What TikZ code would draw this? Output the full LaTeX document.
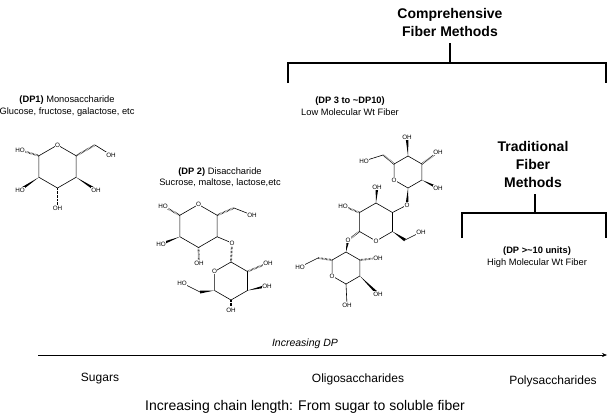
\documentclass[tikz,border=0pt]{standalone}
\usepackage{fontspec}
\setmainfont{Liberation Sans}
\usetikzlibrary{calc,arrows.meta}
\begin{document}
\begin{tikzpicture}[x=1pt,y=-1pt,
  bond/.style={line width=0.6pt},
  hashb/.style={line width=1.8pt,dash pattern=on 0.45pt off 0.9pt},
  atom/.style={fill=white,inner sep=0.3pt,font=\fontsize{6.3}{7}\selectfont},
  lbl/.style={align=center,font=\fontsize{9.3}{11.5}\selectfont},
  head/.style={align=center,font=\fontsize{14}{18}\selectfont\bfseries},
  cat/.style={font=\fontsize{12}{14}\selectfont},
  brk/.style={line width=1.4pt}]
\useasboundingbox (0,0) rectangle (609,416);
\newcommand\hexring[4]{%
  \coordinate (#1T) at (#2,{#3-#4});
  \coordinate (#1B) at (#2,{#3+#4});
  \coordinate (#1UL) at ({#2-0.866*#4},{#3-0.5*#4});
  \coordinate (#1UR) at ({#2+0.866*#4},{#3-0.5*#4});
  \coordinate (#1LL) at ({#2-0.866*#4},{#3+0.5*#4});
  \coordinate (#1LR) at ({#2+0.866*#4},{#3+0.5*#4});
  \draw[bond] (#1UL)--(#1T)--(#1UR)--(#1LR)--(#1B)--(#1LL)--cycle;}
\newcommand\wdg[2]{\fill (#1) -- ($(#2)!1.5pt!90:(#1)$) -- ($(#2)!1.5pt!-90:(#1)$) -- cycle;}
\newcommand\hsh[2]{\draw[hashb] (#1) -- (#2);}
\newcommand\bnd[2]{\draw[bond] (#1) -- (#2);}
% ---------- monosaccharide
\hexring{m}{57.5}{166.5}{21.5}
\coordinate (mHO1) at (20,150); \coordinate (mCH) at (95,145);
\coordinate (mOH6) at (111,155); \coordinate (mHO2) at (20,190);
\coordinate (mOH4) at (96,190); \coordinate (mOH3) at (57.5,208);
\hsh{mUL}{mHO1} \hsh{mUR}{mCH} \bnd{mCH}{mOH6}
\wdg{mLL}{mHO2} \wdg{mLR}{mOH4} \hsh{mB}{mOH3}
\node[atom] (mO) at (mT) {O};
\node[atom] (mA1) at (mHO1) {HO}; \node[atom] (mA2) at (mOH6) {OH};
\node[atom] (mA3) at (mHO2) {HO}; \node[atom] (mA4) at (mOH4) {OH};
\node[atom] (mA5) at (mOH3) {OH};
% ---------- disaccharide
\hexring{d}{198.5}{226}{21.5}
\coordinate (dHO1) at (163,206); \coordinate (dCH) at (234,208);
\coordinate (dOH6) at (252,215); \coordinate (dHO2) at (161,244);
\coordinate (dOH3) at (199,263); \coordinate (dO) at (232,243);
\hsh{dUL}{dHO1} \hsh{dUR}{dCH} \bnd{dCH}{dOH6}
\wdg{dLL}{dHO2} \hsh{dB}{dOH3} \bnd{dLR}{dO}
\hexring{e}{231}{281}{19}
\coordinate (eOH2) at (268,263); \coordinate (eOH3) at (267,286);
\coordinate (eOH4) at (231,310); \coordinate (eCH) at (200,292);
\coordinate (eHO) at (182,283);
\hsh{dO}{eT} \hsh{eUR}{eOH2} \wdg{eLR}{eOH3} \hsh{eB}{eOH4}
\wdg{eLL}{eCH} \bnd{eCH}{eHO}
\node[atom] (dOr) at (dT) {O}; \node[atom] (eOr) at (eUL) {O};
\node[atom] (dA1) at (dHO1) {HO}; \node[atom] (dA2) at (dOH6) {OH};
\node[atom] (dA3) at (dHO2) {HO}; \node[atom] (dA4) at (dOH3) {OH};
\node[atom] (dA5) at (dO) {O};
\node[atom] (eA1) at (eOH2) {OH}; \node[atom] (eA2) at (eOH3) {OH};
\node[atom] (eA3) at (eOH4) {OH}; \node[atom] (eA4) at (eHO) {HO};
% ---------- trisaccharide
\hexring{a}{408}{172}{16}
\coordinate (aCH) at (383,155); \coordinate (aHO) at (364,161);
\coordinate (aOH1) at (407,137); \coordinate (aOH2) at (438,152);
\coordinate (aOH3) at (438,188); \coordinate (aO) at (407,205);
\hsh{aUL}{aCH} \bnd{aCH}{aHO} \wdg{aT}{aOH1} \hsh{aUR}{aOH2}
\wdg{aLR}{aOH3} \wdg{aB}{aO}
\hexring{b}{376}{222}{19}
\coordinate (bOH) at (377,187); \coordinate (bHO) at (343,206);
\coordinate (bCH) at (405,240); \coordinate (bOH2) at (421,232);
\coordinate (bO) at (348,240);
\bnd{aO}{bUR} \wdg{bT}{bOH} \hsh{bUL}{bHO} \wdg{bLR}{bCH} \bnd{bCH}{bOH2}
\hsh{bLL}{bO}
\hexring{c}{346}{268}{16}
\coordinate (cCH) at (318,258); \coordinate (cHO) at (300,267);
\coordinate (cOH1) at (378,258); \coordinate (cOH2) at (378,294);
\coordinate (cOH3) at (347,305);
\wdg{cT}{bO} \hsh{cUL}{cCH} \bnd{cCH}{cHO} \hsh{cUR}{cOH1}
\wdg{cLR}{cOH2} \bnd{cB}{cOH3}
\node[atom] (aOr) at (aLL) {O}; \node[atom] (bOr) at (bB) {O};
\node[atom] (cOr) at (cLL) {O};
\node[atom] (aA1) at (aHO) {HO}; \node[atom] (aA2) at (aOH1) {OH};
\node[atom] (aA3) at (aOH2) {OH}; \node[atom] (aA4) at (aOH3) {OH};
\node[atom] (aA5) at (aO) {O};
\node[atom] (bA1) at (bOH) {OH}; \node[atom] (bA2) at (bHO) {HO};
\node[atom] (bA3) at (bOH2) {OH}; \node[atom] (bA4) at (bO) {O};
\node[atom] (cA1) at (cHO) {HO}; \node[atom] (cA2) at (cOH1) {OH};
\node[atom] (cA3) at (cOH2) {OH}; \node[atom] (cA4) at (cOH3) {OH};
% ---------- labels
\node[lbl] (t1) at (67,106) {\textbf{(DP1)} Monosaccharide\\Glucose, fructose, galactose, etc};
\node[lbl] (t2) at (220,177) {\textbf{(DP 2)} Disaccharide\\Sucrose, maltose, lactose,etc};
\node[lbl] (t3) at (350,106) {\textbf{(DP 3 to \textasciitilde DP10)}\\Low Molecular Wt Fiber};
\node[lbl] (t4) at (537,257) {\textbf{(DP >\textasciitilde 10 units)}\\High Molecular Wt Fiber};
% ---------- brackets
\node[head] (comp) at (450,22) {Comprehensive\\Fiber Methods};
\coordinate (c0) at (450,43); \coordinate (c1) at (450,63);
\coordinate (cl) at (288,63); \coordinate (cr) at (606,63);
\coordinate (cl2) at (288,83); \coordinate (cr2) at (606,83);
\draw[brk] (c0) -- (c1); \draw[brk] (cl2) -- (cl) -- (cr) -- (cr2);
\node[head] (trad) at (533,164) {Traditional\\Fiber\\Methods};
\coordinate (r0) at (535,194); \coordinate (r1) at (535,213);
\coordinate (rl) at (462,213); \coordinate (rr) at (606,213);
\coordinate (rl2) at (462,238); \coordinate (rr2) at (606,238);
\draw[brk] (r0) -- (r1); \draw[brk] (rl2) -- (rl) -- (rr) -- (rr2);
% ---------- axis
\coordinate (x0) at (38,355); \coordinate (x1) at (607,355);
\draw[line width=0.6pt,-{Stealth[length=5pt,width=4pt]}] (x0) -- (x1);
\node[font=\fontsize{10.5}{12}\selectfont\itshape] (idp) at (305,344) {Increasing DP};
\node[cat] (s1) at (100,379) {Sugars};
\node[cat] (s2) at (358,379) {Oligosaccharides};
\node[cat] (s3) at (553,381) {Polysaccharides};
\node[font=\fontsize{14}{16}\selectfont] (cap) at (305,407) {Increasing chain length: From sugar to soluble fiber};
\end{tikzpicture}
\end{document}
